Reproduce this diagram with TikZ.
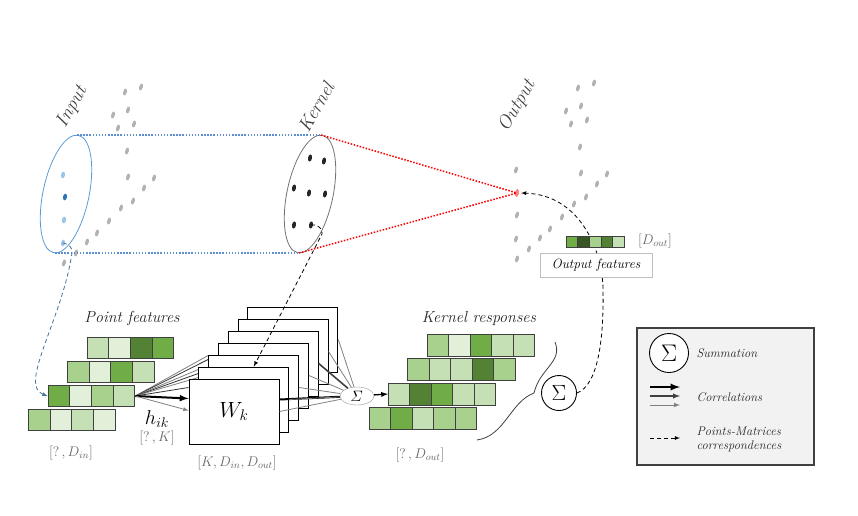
\RequirePackage{fix-cm}
\documentclass[tikz,border=0pt]{standalone}
\usepackage{fontspec}
\usepackage{amsmath}
\usetikzlibrary{shapes,arrows,calc,backgrounds}

\definecolor{gA}{HTML}{E2F0D9}
\definecolor{gB}{HTML}{C5E0B4}
\definecolor{gC}{HTML}{A9D18E}
\definecolor{gD}{HTML}{70AD47}
\definecolor{gE}{HTML}{548235}
\definecolor{gF}{HTML}{375623}
\definecolor{inblue}{HTML}{5B9BD5}
\definecolor{lightdot}{HTML}{9DC3E6}
\definecolor{darkdot}{HTML}{2E75B6}
\definecolor{lineblue}{HTML}{5B8FD0}
\definecolor{arrowblue}{HTML}{41719C}
\definecolor{reddot}{HTML}{FF8080}

\begin{document}
\begin{tikzpicture}[x=1pt, y=-1pt,
    cell/.style={draw=black!75, line width=0.9pt, minimum width=21.7pt, minimum height=21.5pt, inner sep=0pt},
    rcell/.style={cell, minimum width=21.5pt, minimum height=22pt},
    ocell/.style={cell, line width=0.7pt, minimum width=11.7pt, minimum height=11pt},
    wbox/.style={draw, fill=white, line width=1pt, minimum width=90pt, minimum height=65pt, inner sep=0pt},
    toplbl/.style={font=\fontsize{19}{21}\selectfont\itshape, text=black!75, rotate=60},
    lbl/.style={font=\fontsize{16}{18}\selectfont\itshape, text=black!85},
    leglbl/.style={font=\fontsize{12.5}{14}\selectfont\itshape, text=black!85, anchor=west, align=left},
    dimlbl/.style={font=\fontsize{14}{16}\selectfont, text=black!60},
    dotline/.style={dash pattern=on 1.5pt off 1.6pt, line width=1.5pt},
    corr/.style={dash pattern=on 4pt off 3pt, line width=0.8pt, -latex},
]
\useasboundingbox (0,0) rectangle (858,515);

% point clouds (input and output)
\foreach \sx/\sy in {0/0, 453/-4}
  \foreach \x/\y in {125/92,141/87,113/115,128/110,118/128,134/124,127/151,128/177,
                     154/178,144/188,133/201,121/208,109/221,97/233,87/242,76/253,64/263}
    \fill[black!30, shift={(\x+\sx,\y+\sy)}, rotate=-15] (0,0) ellipse [x radius=1.8, y radius=3.6];
\foreach \x/\y in {516/170,517/215,516/239}
  \fill[black!30, shift={(\x,\y)}, rotate=-15] (0,0) ellipse [x radius=1.8, y radius=3.6];
\coordinate (outdot) at (517,193);
\fill[reddot, shift={(outdot)}, rotate=-10] (0,0) ellipse [x radius=2, y radius=4];

% input neighbourhood
\foreach \x/\y/\c [count=\i] in {63/175/lightdot,65/197/darkdot,64/220/lightdot,63/243/lightdot}{
  \coordinate (ind\i) at (\x,\y);
  \fill[\c, shift={(ind\i)}, rotate=-10] (0,0) ellipse [x radius=2, y radius=3.4];
}
\draw[inblue, line width=0.8pt, rotate around={-12:(66,194)}] (66,194) ellipse [x radius=23, y radius=60];

% kernel points
\foreach \x/\y [count=\i] in {310/158,324/161,294/188,309/193,325/194,294/225,311/225}{
  \coordinate (kd\i) at (\x,\y);
  \fill[black!85, shift={(kd\i)}, rotate=-10] (0,0) ellipse [x radius=2, y radius=3.6];
}
\draw[black!55, line width=0.8pt, rotate around={-12:(310,194)}] (310,194) ellipse [x radius=23, y radius=60];

\coordinate (intop) at (77,135);
\coordinate (inbot) at (55,253);
\coordinate (ktop) at (321,135);
\coordinate (kbot) at (299,253);
\draw[dotline, lineblue] (intop) -- (ktop) (inbot) -- (kbot);
\draw[dotline, red] (ktop) -- (outdot) (kbot) -- (outdot);

\node[toplbl] (inlabel) at (72,107) {Input};
\node[toplbl] (klabel) at (316,107) {Kernel};
\node[toplbl] (outlabel) at (517,106) {Output};

% point features
\foreach \r/\row in {1/{gB,gA,gE,gD}, 2/{gC,gA,gD,gB}, 3/{gD,gA,gC,gB}, 4/{gC,gA,gB,gA}}
  \foreach \c [count=\i] in \row
    \node[cell, fill=\c] (pf\r-\i) at ({87-19.5*(\r-1)+21.7*(\i-0.5)}, {348+24*(\r-1)}) {};
\node[lbl] (pflabel) at (132,318) {Point features};
\node[dimlbl] (pfdim) at (71,453) {$[?\,,D_{in}]$};

% kernel responses
\foreach \r/\row in {1/{gC,gA,gD,gB,gB}, 2/{gC,gB,gB,gE,gC}, 3/{gB,gE,gD,gB,gB}, 4/{gC,gD,gB,gC,gC}}
  \foreach \c [count=\i] in \row
    \node[rcell, fill=\c] (kr\r-\i) at ({427-19.3*(\r-1)+21.5*(\i-0.5)}, {345+24.5*(\r-1)}) {};
\node[lbl] (krlabel) at (479,318) {Kernel responses};
\node[dimlbl] (krdim) at (420,455) {$[?\,,D_{out}]$};

% kernel weight matrices
\foreach \k in {7,6,...,1}
  \node[wbox] (w\k) at ({234+9.8*(\k-1)}, {411.5-12*(\k-1)}) {};
\node[font=\fontsize{22}{24}\selectfont] (wlabel) at (w1) {$W_k$};
\node[dimlbl] (wdim) at (237,463) {$[K,D_{in},D_{out}]$};
\node[font=\fontsize{20}{22}\selectfont] (hik) at (157,419) {$h_{ik}$};
\node[dimlbl] (hdim) at (157,438) {$[?\,,K]$};

\begin{pgfonlayer}{background}
  \foreach \k/\dy/\c in {3/1/black!50, 3/5/black!80, 2/3/black!50, 2/7/black!80, 2/11/black!50, 1/9/black!80}
    \draw[\c, line width=0.8pt] (pf3-4.east) -- ($(w\k.north west)+(0,\dy)$);
\end{pgfonlayer}
\draw[line width=2pt, -latex] (pf3-4.east) -- ($(w1.west)+(0,-13)$);
\draw[black!50, line width=0.8pt, -latex] (pf3-4.east) -- ($(w1.west)+(0,-1)$);

% summation of correlations
\node[ellipse, draw=black!40, fill=white, minimum width=34pt, minimum height=18pt, inner sep=0pt] (sig) at (357,396) {};
\node[xslant=0.25, font=\fontsize{15}{15}\selectfont] (sigtxt) at (sig) {$\Sigma$};
\draw[black!50, line width=0.8pt] ($(w1.north east)+(0,33)$) -- (sig);
\draw[line width=2pt] ($(w1.north east)+(0,21)$) -- (sig);
\foreach \k/\c/\lw in {2/black!50/0.8, 3/black!50/0.8, 4/black!50/0.8, 5/black!75/1.6, 6/black!50/0.8, 7/black!50/0.8}
  \draw[\c, line width=\lw pt] ($(w\k.north east)+(0,33)$) -- (sig);
\draw[line width=1.3pt, -latex] (sig) -- (kr3-1.west);

% correspondences
\draw[corr, arrowblue] (ind4) .. controls (69,244) and (73,248) .. (72,253)
      .. controls (62,320) and (18,385) .. (pf3-1.west);
\draw[corr] (kd7) .. controls (318,224) and (323,229) .. (322,234) -- ($(w2.north)+(10,0)$);

% big summation and output
\node[circle, draw, line width=0.9pt, fill=white, minimum size=35pt, inner sep=0pt,
      font=\fontsize{22}{22}\selectfont] (bigsum) at (559,393) {$\Sigma$};
\coordinate (btip) at (534,393);
\draw[black!75, line width=0.8pt] (555,342) .. controls (563,362) and (540,368) .. (btip)
      .. controls (510,402) and (505,436) .. (477,440);
\coordinate (outtip) at (521,193);
\draw[corr] (bigsum.east) .. controls (598,385) and (604,340) .. (603,288)
      .. controls (602,250) and (580,195) .. (outtip);
\node[draw=black!25, line width=0.8pt, fill=white, minimum width=112pt, minimum height=24pt,
      font=\fontsize{13.5}{15}\selectfont\itshape] (ofeat) at (596,265) {Output features};
\foreach \c [count=\i] in {gD,gF,gC,gE,gB}
  \node[ocell, fill=\c] (of\i) at ({566+11.7*(\i-0.5)}, 241.5) {};
\node[dimlbl] (odim) at (655,241) {$[D_{out}]$};

% legend
\node[draw=black!75, line width=1.2pt, fill=black!5, minimum width=177pt, minimum height=137pt] (legend) at (725.5,396.5) {};
\node[circle, draw, line width=0.9pt, fill=white, minimum size=39pt, inner sep=0pt,
      font=\fontsize{24}{24}\selectfont] (lsum) at (669,353) {$\Sigma$};
\node[leglbl] (lsumtxt) at (693,353) {Summation};
\coordinate (la1) at (650,387);
\coordinate (la2) at (650,396);
\coordinate (la3) at (650,405);
\coordinate (la4) at (650,438);
\draw[line width=2.2pt, -latex] (la1) -- ++(30,0);
\draw[black!75, line width=1.4pt, -latex] (la2) -- ++(30,0);
\draw[black!50, line width=1pt, -latex] (la3) -- ++(30,0);
\node[leglbl] (lcorr) at (693,397) {Correlations};
\draw[corr] (la4) -- ++(30,0);
\node[leglbl] (lcorresp) at (693,439) {Points-Matrices\\correspondences};
\end{tikzpicture}
\end{document}
